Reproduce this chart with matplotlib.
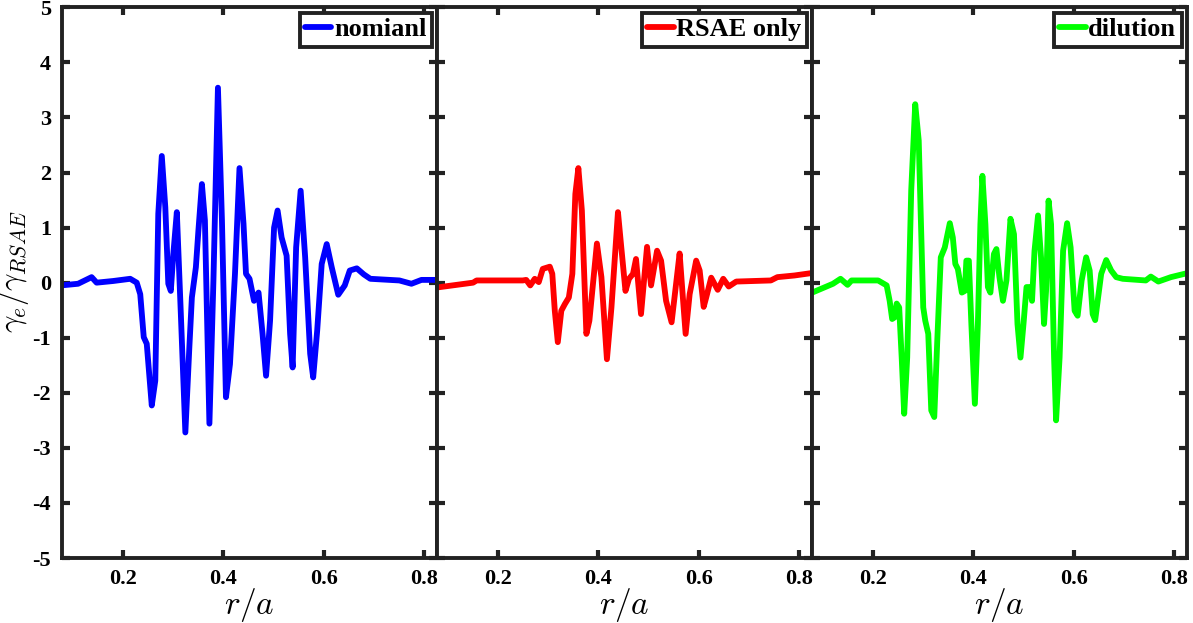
import matplotlib
matplotlib.use("Agg")
import matplotlib.pyplot as plt

# --- data ---
r_nom = [0.076, 0.110, 0.137, 0.147, 0.180, 0.214, 0.227, 0.234, 0.241, 0.247, 0.257,
         0.264, 0.270, 0.277, 0.284, 0.290, 0.295, 0.300, 0.307, 0.315, 0.324, 0.332,
         0.337, 0.345, 0.350, 0.357, 0.363, 0.372, 0.380, 0.389, 0.397, 0.405, 0.413,
         0.423, 0.432, 0.440, 0.445, 0.452, 0.461, 0.470, 0.478, 0.485, 0.493, 0.501,
         0.508, 0.516, 0.526, 0.533, 0.538, 0.545, 0.554, 0.563, 0.573, 0.579, 0.587,
         0.596, 0.606, 0.616, 0.629, 0.642, 0.652, 0.666, 0.680, 0.693, 0.751, 0.775,
         0.795, 0.830]
g_nom = [-0.05, -0.02, 0.10, 0.00, 0.03, 0.07, 0.00, -0.21, -0.99, -1.11, -2.23,
         -1.78, 1.25, 2.30, 1.37, -0.02, -0.15, 0.52, 1.28, -0.57, -2.72, -1.17,
         -0.27, 0.28, 0.94, 1.79, 1.13, -2.56, 0.04, 3.54, 1.13, -2.08, -1.48,
         0.16, 2.08, 1.07, 0.16, 0.07, -0.33, -0.18, -0.93, -1.69, -0.69, 1.00,
         1.31, 0.82, 0.49, -0.93, -1.54, 0.64, 1.67, 0.46, -1.29, -1.72, -0.87,
         0.34, 0.70, 0.28, -0.22, -0.05, 0.22, 0.26, 0.15, 0.07, 0.04, -0.02,
         0.05, 0.05]

r_rsae = [0.076, 0.150, 0.157, 0.249, 0.256, 0.264, 0.273, 0.281, 0.289, 0.303, 0.308,
          0.313, 0.319, 0.326, 0.333, 0.341, 0.348, 0.354, 0.360, 0.367, 0.376, 0.382,
          0.397, 0.406, 0.417, 0.426, 0.439, 0.445, 0.454, 0.461, 0.469, 0.475, 0.485,
          0.497, 0.505, 0.517, 0.525, 0.535, 0.546, 0.555, 0.562, 0.568, 0.574, 0.582,
          0.595, 0.602, 0.610, 0.615, 0.625, 0.638, 0.649, 0.660, 0.675, 0.744, 0.757,
          0.791, 0.830]
g_rsae = [-0.09, 0.00, 0.04, 0.04, 0.05, -0.05, 0.07, 0.01, 0.25, 0.29, 0.16,
          -0.51, -1.08, -0.51, -0.39, -0.27, 0.16, 1.61, 2.08, 1.31, -0.93, -0.69,
          0.71, 0.10, -1.39, -0.45, 1.28, 0.70, -0.15, 0.07, 0.16, 0.43, -0.57,
          0.65, -0.05, 0.58, 0.40, -0.33, -0.72, -0.02, 0.53, -0.21, -0.93, -0.21,
          0.40, 0.22, -0.44, -0.27, 0.09, -0.13, 0.07, -0.07, 0.02, 0.04, 0.10,
          0.13, 0.18]

r_dil = [0.076, 0.120, 0.135, 0.149, 0.157, 0.210, 0.227, 0.233, 0.238, 0.243, 0.247,
         0.252, 0.257, 0.262, 0.268, 0.276, 0.284, 0.291, 0.300, 0.304, 0.310, 0.316,
         0.322, 0.328, 0.335, 0.343, 0.353, 0.359, 0.364, 0.369, 0.377, 0.383, 0.386,
         0.391, 0.396, 0.403, 0.409, 0.414, 0.418, 0.424, 0.429, 0.434, 0.441, 0.446,
         0.452, 0.459, 0.466, 0.474, 0.481, 0.488, 0.494, 0.500, 0.506, 0.512, 0.517,
         0.522, 0.529, 0.535, 0.541, 0.545, 0.550, 0.555, 0.561, 0.565, 0.572, 0.579,
         0.587, 0.594, 0.602, 0.608, 0.616, 0.625, 0.632, 0.638, 0.643, 0.648, 0.655,
         0.665, 0.675, 0.685, 0.698, 0.744, 0.754, 0.769, 0.794, 0.830]
g_dil = [-0.19, -0.02, 0.07, -0.04, 0.04, 0.04, -0.05, -0.33, -0.66, -0.63, -0.38,
         -0.45, -1.36, -2.38, -1.36, 1.67, 3.24, 2.58, -0.45, -0.69, -0.93, -2.32,
         -2.44, -1.05, 0.46, 0.64, 1.08, 0.82, 0.34, 0.25, -0.18, -0.15, 0.40,
         0.40, -0.75, -2.20, -0.75, 1.06, 1.94, 1.06, -0.08, -0.18, 0.52, 0.61,
         0.10, -0.33, 0.04, 1.16, 0.88, -0.75, -1.36, -0.75, -0.08, -0.08, -0.33,
         0.58, 1.22, 0.46, -0.75, -0.15, 1.49, 1.06, -1.36, -2.50, -1.36, 0.58,
         1.08, 0.64, -0.51, -0.60, 0.04, 0.46, 0.22, -0.57, -0.68, -0.33, 0.16,
         0.41, 0.22, 0.10, 0.07, 0.04, 0.11, 0.02, 0.10, 0.18]

series = [
    (r_nom, g_nom, "#0000ff", "nomianl"),
    (r_rsae, g_rsae, "#ff0000", "RSAE only"),
    (r_dil, g_dil, "#00ff00", "dilution"),
]
xticks = [0.2, 0.4, 0.6, 0.8]
yticks = list(range(-5, 6))

plt.rcParams["font.family"] = "Liberation Serif"
plt.rcParams["font.weight"] = "bold"
plt.rcParams["mathtext.fontset"] = "cm"

fig = plt.figure(figsize=(11.93, 6.23), dpi=100)
frame = "#222222"
lefts = [0.052, 0.3663, 0.6806]
for i, (r, g, col, lab) in enumerate(series):
    ax = fig.add_axes([lefts[i], 0.1043, 0.3143, 0.884])
    ax.plot(r, g, color=col, lw=4.2, label=lab,
            solid_joinstyle="round", solid_capstyle="round")
    ax.set_xlim(0.078, 0.826)
    ax.set_ylim(-5, 5)
    ax.set_xticks(xticks)
    ax.set_xticklabels([f"{t:.1f}" for t in xticks])
    ax.set_yticks(yticks)
    if i == 0:
        ax.set_yticklabels([str(t) for t in yticks])
        ax.set_ylabel(r"$\gamma_e/\gamma_{RSAE}$", fontsize=22)
        ax.yaxis.set_label_coords(-0.082, 0.52)
    else:
        ax.set_yticklabels([])
    ax.tick_params(direction="in", length=6, width=3, color=frame,
                   top=True, right=True, labelsize=16, pad=8)
    for s in ax.spines.values():
        s.set_linewidth(2.8)
        s.set_color(frame)
    ax.set_xlabel(r"$r/a$", fontsize=24, labelpad=-2)
    leg = ax.legend(loc="upper right", handlelength=1.0, handletextpad=0.1,
                    borderpad=0.2, borderaxespad=0.2, fancybox=False,
                    prop={"size": 19, "weight": "bold"})
    leg.get_frame().set_edgecolor(frame)
    leg.get_frame().set_linewidth(2.8)
    leg.get_frame().set_alpha(1)

fig.savefig("out.png", dpi=100)
